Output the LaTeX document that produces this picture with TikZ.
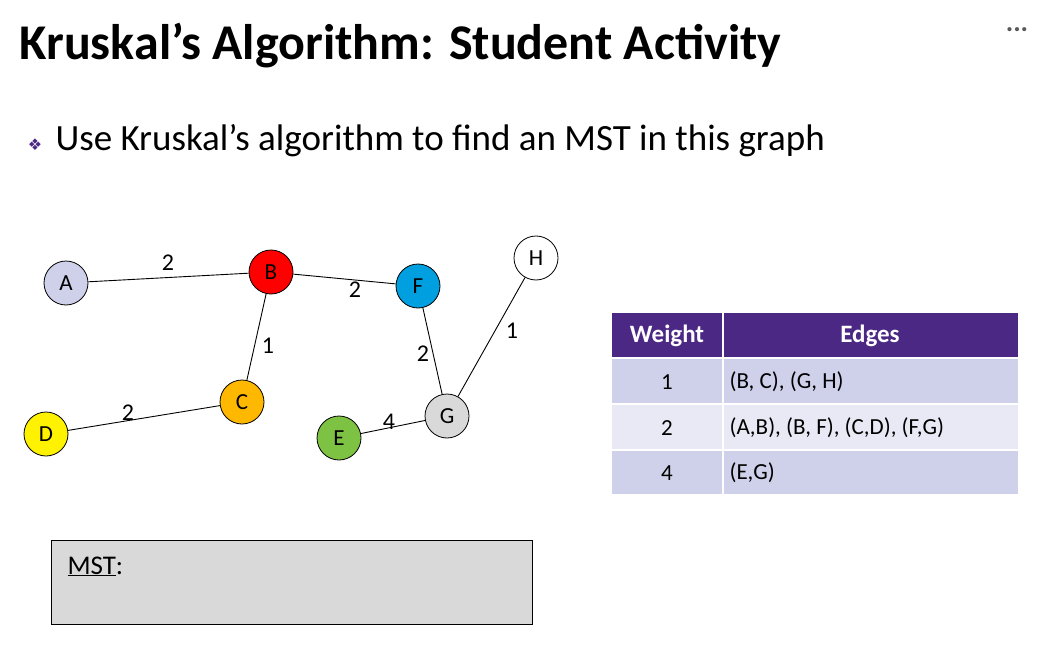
\documentclass[tikz,border=0pt]{standalone}
\usepackage{fontspec}
\setmainfont{Carlito}
\newfontfamily\djv{DejaVu Sans}
\definecolor{uwpurple}{HTML}{4B2884}
\definecolor{rowa}{HTML}{CFD0EA}
\definecolor{rowb}{HTML}{E8E9F4}
\begin{document}
\begin{tikzpicture}[x=1pt,y=-1pt,
  vert/.style={circle,draw=black,thick,minimum size=44pt,inner sep=0pt,font=\fontsize{23}{23}\selectfont},
  wt/.style={font=\fontsize{24}{24}\selectfont},
  edge/.style={draw=black,line width=0.9pt},
  cell/.style={font=\fontsize{23}{23}\selectfont}]
\useasboundingbox (0,0) rectangle (1063,650);
\node[anchor=base west,font=\fontsize{50}{50}\selectfont\bfseries] (title) at (16,60) {Kruskal’s Algorithm: Student Activity};
\node[font=\fontsize{28}{28}\selectfont\bfseries,text=gray!70!black] (dots) at (1017,30) {...};
\node[text=uwpurple,font=\djv\fontsize{16}{16}\selectfont] (bul) at (35,145) {❖};
\node[anchor=base west,font=\fontsize{37}{37}\selectfont] (line) at (52,150) {Use Kruskal’s algorithm to find an MST in this graph};
% vertices
\node[vert,fill=rowa] (A) at (66,283) {A};
\node[vert,fill=red] (B) at (271,272) {B};
\node[vert,fill={rgb,255:red,0;green,160;blue,224}] (F) at (418,286) {F};
\node[vert,fill=white] (H) at (536,258) {H};
\node[vert,fill={rgb,255:red,255;green,184;blue,0}] (C) at (242,402) {C};
\node[vert,fill=yellow] (D) at (46,434) {D};
\node[vert,fill={rgb,255:red,125;green,194;blue,66}] (E) at (339,438) {E};
\node[vert,fill={rgb,255:red,217;green,217;blue,217}] (G) at (447,416) {G};
\draw[edge] (A) -- (B);
\draw[edge] (B) -- (F);
\draw[edge] (B) -- (C);
\draw[edge] (C) -- (D);
\draw[edge] (F) -- (G);
\draw[edge] (G) -- (H);
\draw[edge] (E) -- (G);
\node[wt] (wab) at (168,263) {2};
\node[wt] (wbf) at (355,290) {2};
\node[wt] (wbc) at (268,346) {1};
\node[wt] (wfg) at (423,354) {2};
\node[wt] (wgh) at (512,331) {1};
\node[wt] (wcd) at (128,413) {2};
\node[wt] (weg) at (389,422) {4};
% table
\fill[uwpurple] (612,313) rectangle (1018,358);
\fill[rowa] (612,358) rectangle (1018,404);
\fill[rowb] (612,404) rectangle (1018,450);
\fill[rowa] (612,450) rectangle (1018,494);
\draw[white,line width=2pt] (612,358) -- (1018,358) (612,404) -- (1018,404) (612,450) -- (1018,450) (723,313) -- (723,494);
\node[cell,text=white,font=\fontsize{25}{25}\selectfont\bfseries] (h1) at (667,336) {Weight};
\node[cell,text=white,font=\fontsize{25}{25}\selectfont\bfseries] (h2) at (870,336) {Edges};
\node[cell] (w1) at (667,382) {1};
\node[cell] (w2) at (667,428) {2};
\node[cell] (w3) at (667,473) {4};
\node[cell,anchor=west] (e1) at (726,382) {(B, C), (G, H)};
\node[cell,anchor=west] (e2) at (726,428) {(A,B), (B, F), (C,D), (F,G)};
\node[cell,anchor=west] (e3) at (726,473) {(E,G)};
% MST box
\draw[fill={rgb,255:red,217;green,217;blue,217},line width=0.8pt] (51,540) rectangle (532,624);
\node[anchor=base west,font=\fontsize{27}{27}\selectfont] (mst) at (64,574) {\underline{MST}:};
\end{tikzpicture}
\end{document}
